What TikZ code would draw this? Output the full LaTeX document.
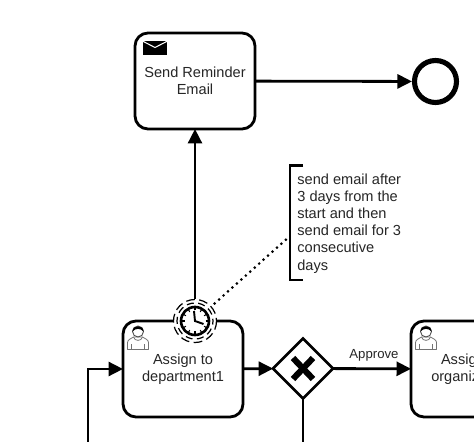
\documentclass[tikz,border=0pt]{standalone}
\usepackage{fontspec}
\setmainfont{Liberation Sans}
\usepackage{xcolor}
\usetikzlibrary{positioning, arrows.meta, shapes.geometric}

\tikzset{
    taskbox/.style={draw, rounded corners=0.26cm, line width=1.6pt, fill=white, minimum width=2.4cm, minimum height=1.92cm,
        align=center, inner sep=0pt, outer sep=0pt, text=black!85, font=\fontsize{8.3}{9.75}\selectfont},
    flow/.style={line width=1.6pt, -{Triangle[length=0.29cm, width=0.28cm]}},
    plainflow/.style={line width=1.6pt},
    gatebox/.style={draw, diamond, aspect=1, line width=1.6pt, fill=white, minimum size=1.2cm, inner sep=0pt, outer sep=0pt},
    endevent/.style={draw, circle, line width=2.9pt, fill=white, minimum size=0.84cm, inner sep=0pt},
    timerbox/.style={circle, fill=white, minimum size=0.88cm, inner sep=0pt},
    notetext/.style={align=left, inner sep=0pt, text=black!85, font=\fontsize{8.3}{9.75}\selectfont},
    usericon/.pic={
        \draw[black!55, line width=0.45pt, fill=white, line join=round] (0,24) -- (0,17) .. controls (0,14) and (4,13) .. (6,11.5)
            -- (15,11.5) .. controls (17,13) and (21,14) .. (21,17) -- (21,24) -- cycle;
        \draw[black!55, line width=0.45pt] (4,24) -- (4,18) (17,24) -- (17,18);
        \draw[black!55, line width=0.45pt] (6,11.5) .. controls (7,16) and (14,16) .. (15,11.5);
        \draw[black!70, line width=0.5pt, fill=white] (10.5,6) circle (5.5);
        \fill[black] (5,6) .. controls (5,-1) and (16,-1) .. (16,6) .. controls (13,2.5) and (8,2.5) .. (5,6) -- cycle;
    },
    mailicon/.pic={
        \fill[black] (0,0) rectangle (24,14.5);
        \draw[white, line width=0.6pt] (0,0.8) -- (12,7) -- (24,0.8);
    },
    gatemark/.pic={
        \draw[line width=3.5pt] (-10,-10.5) -- (10,10.5) (-10,10.5) -- (10,-10.5);
    },
    clockface/.pic={
        \draw[line width=0.7pt, dash pattern=on 5pt off 2.5pt] (0,0) circle (21.5);
        \draw[line width=0.7pt, dash pattern=on 4pt off 2.5pt, dash phase=2pt] (0,0) circle (18);
        \draw[line width=1.5pt, fill=white] (0,0) circle (14);
        \foreach \ang in {0,30,...,330} {
            \draw[line width=0.6pt] (\ang:10.5) -- (\ang:13.5);
        }
        \draw[line width=1.1pt] (-1,-10) -- (0,0) -- (8.5,3);
    },
}

\begin{document}
\begin{tikzpicture}[x=0.02cm, y=-0.02cm]
    \useasboundingbox (0,0) rectangle (474,442);
    \clip (0,0) rectangle (474,442);
    \fill[white] (0,0) rectangle (474,442);

    % Tasks
    \node[taskbox] (remind) at (195,81) {Send Reminder\\Email};
    \node[taskbox] (assignone) at (183,369) {Assign to\\department1};
    \node[taskbox] (assigntwo) at (471,369) {Assign to\\organization};
    \pic at ([shift={(8,7.5)}]remind.north west) {mailicon};
    \pic at ([shift={(4.5,4.5)}]assignone.north west) {usericon};
    \pic at ([shift={(4.5,4.5)}]assigntwo.north west) {usericon};

    % Events and gateway
    \node[endevent] (finish) at (435.5,81.5) {};
    \node[gatebox] (gate) at (303,368.5) {};
    \pic at (gate.center) {gatemark};
    \node[timerbox] (timer) at (195,321) {};
    \pic at (timer.center) {clockface};

    % Annotation
    \node[notetext, anchor=north west] (note) at (297,173.5) {send email after\\3 days from the\\start and then\\send email for 3\\consecutive\\days};
    \coordinate (bracktop) at (303,165.5);
    \coordinate (brackbot) at (303,280);
    \coordinate (noteend) at (290,236);
    \draw[line width=1.6pt] (bracktop) -- (290,165.5) -- (290,280) -- (brackbot);
    \draw[line width=1.7pt, line cap=round, dash pattern=on 0pt off 3.4pt, shorten <=0.08cm] (timer) -- (noteend);

    % Connectors
    \coordinate (inflow) at (88,450);
    \coordinate (outflow) at (303,450);
    \draw[flow] (remind) -- (finish);
    \draw[flow] (timer) -- (remind);
    \draw[flow] (inflow) |- (assignone);
    \draw[flow] (assignone) -- (gate);
    \draw[flow] (gate) -- (assigntwo) node[midway, above=0.13cm, inner sep=0pt, xshift=0.04cm, text=black!85, font=\fontsize{7.5}{9}\selectfont] (approve) {Approve};
    \draw[plainflow] (gate) -- (outflow);
\end{tikzpicture}
\end{document}
